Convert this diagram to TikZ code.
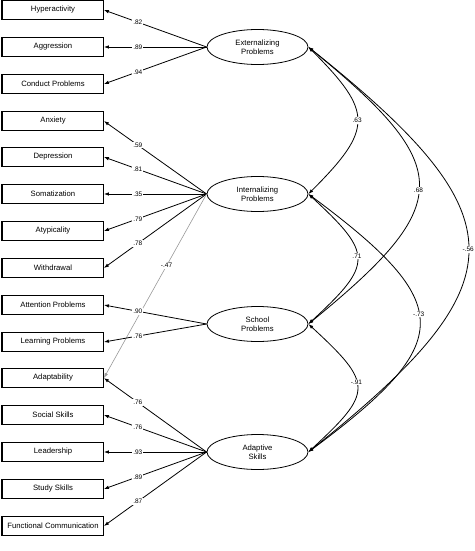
\documentclass[tikz,border=0pt]{standalone}
\usepackage{fontspec}
\setmainfont{Liberation Sans}
\usetikzlibrary{shapes.geometric,arrows.meta}
\begin{document}
\begin{tikzpicture}[x=1pt,y=-1pt,
 obs/.style={draw, line width=0.8pt, minimum width=101pt, minimum height=19pt, inner sep=0pt, font=\fontsize{7.7}{9}\selectfont},
 lat/.style={draw, ellipse, line width=0.8pt, minimum width=101pt, minimum height=35pt, inner sep=0pt, align=center, font=\fontsize{7.7}{9}\selectfont},
 load/.style={line width=0.8pt, -{Latex[length=5pt,width=3.5pt]}},
 cov/.style={line width=0.8pt, {Latex[length=5pt,width=3.5pt]}-{Latex[length=5pt,width=3.5pt]}},
 coef/.style={fill=white, inner sep=1pt, font=\fontsize{6.5}{7}\selectfont}]
\useasboundingbox (0,0) rectangle (474,551);
% observed
\node[obs] (hyp) at (53,10) {Hyperactivity};
\node[obs] (agg) at (53,47) {Aggression};
\node[obs] (con) at (53,84) {Conduct Problems};
\node[obs] (anx) at (53,121) {Anxiety};
\node[obs] (dep) at (53,157) {Depression};
\node[obs] (som) at (53,194) {Somatization};
\node[obs] (aty) at (53,231) {Atypicality};
\node[obs] (wit) at (53,268) {Withdrawal};
\node[obs] (att) at (53,305) {Attention Problems};
\node[obs] (lea) at (53,342) {Learning Problems};
\node[obs] (ada) at (53,378) {Adaptability};
\node[obs] (soc) at (53,415) {Social Skills};
\node[obs] (lead) at (53,452) {Leadership};
\node[obs] (stu) at (53,489) {Study Skills};
\node[obs] (fun) at (53,526) {Functional Communication};
\foreach \n in {hyp,agg,con,anx,dep,som,aty,wit,att,lea,ada,soc,lead,stu,fun}
  \draw[line width=1.6pt] (\n.north west) -- (\n.south west);
% latent
\node[lat] (ext) at (257.5,47) {Externalizing\\Problems};
\node[lat] (int) at (257.5,194) {Internalizing\\Problems};
\node[lat] (sch) at (257.5,324) {School\\Problems};
\node[lat] (adp) at (257.5,452) {Adaptive\\Skills};
% loadings
\draw[load] (ext.west) -- (hyp.east) node[coef,pos=0.67]{.82};
\draw[load] (ext.west) -- (agg.east) node[coef,pos=0.67]{.89};
\draw[load] (ext.west) -- (con.east) node[coef,pos=0.67]{.94};
\draw[load] (int.west) -- (anx.east) node[coef,pos=0.67]{.59};
\draw[load] (int.west) -- (dep.east) node[coef,pos=0.67]{.81};
\draw[load] (int.west) -- (som.east) node[coef,pos=0.67]{.35};
\draw[load] (int.west) -- (aty.east) node[coef,pos=0.67]{.79};
\draw[load] (int.west) -- (wit.east) node[coef,pos=0.67]{.78};
\draw[load,draw=black!40,line width=0.6pt] (int.west) -- (ada.east) node[coef,pos=0.39]{-.47};
\draw[load] (sch.west) -- (att.east) node[coef,pos=0.67]{.90};
\draw[load] (sch.west) -- (lea.east) node[coef,pos=0.67]{.76};
\draw[load] (adp.west) -- (ada.east) node[coef,pos=0.67]{.76};
\draw[load] (adp.west) -- (soc.east) node[coef,pos=0.67]{.76};
\draw[load] (adp.west) -- (lead.east) node[coef,pos=0.67]{.93};
\draw[load] (adp.west) -- (stu.east) node[coef,pos=0.67]{.89};
\draw[load] (adp.west) -- (fun.east) node[coef,pos=0.67]{.87};
% covariances
\draw[cov] (ext.east) .. controls +(65,65) and +(65,-65) .. (int.east) node[coef,pos=0.5]{.63};
\draw[cov] (ext.east) .. controls +(147,120) and +(147,-120) .. (sch.east) node[coef,pos=0.52]{.68};
\draw[cov] (ext.east) .. controls +(213,170) and +(213,-170) .. (adp.east) node[coef,pos=0.5]{-.56};
\draw[cov] (int.east) .. controls +(65,60) and +(65,-60) .. (sch.east) node[coef,pos=0.47]{.71};
\draw[cov] (int.east) .. controls +(148,110) and +(148,-110) .. (adp.east) node[coef,pos=0.46]{-.73};
\draw[cov] (sch.east) .. controls +(65,60) and +(65,-60) .. (adp.east) node[coef,pos=0.44]{-.91};
\end{tikzpicture}
\end{document}
